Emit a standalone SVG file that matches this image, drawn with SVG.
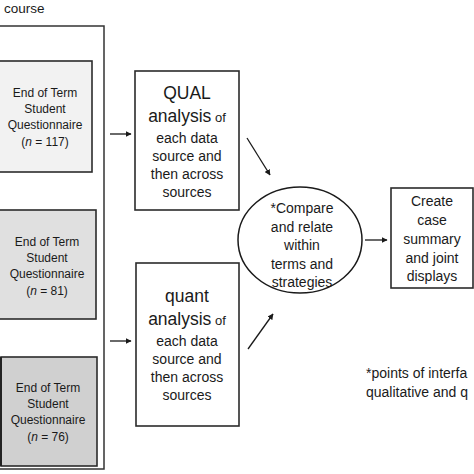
<svg xmlns="http://www.w3.org/2000/svg" width="474" height="474" viewBox="0 0 474 474">
<style>
text{font-family:"Liberation Sans",Arial,sans-serif;fill:#1a1a1a;text-anchor:middle}
.s{font-size:12px}
.m{font-size:14px}
.l{font-size:17.5px}
.sm{font-size:13px}
.box{stroke:#2b2b2b;stroke-width:1.6}
.con{stroke:#1a1a1a;stroke-width:1.3;fill:none}
</style>
<defs>
<marker id="ah" viewBox="0 0 10 10" refX="9" refY="5" markerWidth="6" markerHeight="6" markerUnits="userSpaceOnUse" orient="auto">
<path d="M0,0 L10,5 L0,10 z" fill="#1a1a1a"/>
</marker>
</defs>
<rect width="474" height="474" fill="#fff"/>
<text x="4" y="13" style="font-size:13.5px;text-anchor:start">course</text>
<g id="container">
<rect x="-5" y="26" width="109" height="443" fill="#fff" stroke="#333" stroke-width="1.5"/>
</g>
<g id="q1">
<rect class="box" x="-5" y="61" width="97" height="111" fill="#f2f2f2"/>
<text class="s" x="45" y="97">End of Term</text>
<text class="s" x="45" y="113">Student</text>
<text class="s" x="45" y="129">Questionnaire</text>
<text class="s" x="45" y="146">(<tspan font-style="italic">n</tspan> = 117)</text>
</g>
<g id="q2">
<rect class="box" x="-5" y="210" width="101" height="109" fill="#e0e0e0"/>
<text class="s" x="47" y="246">End of Term</text>
<text class="s" x="47" y="262">Student</text>
<text class="s" x="47" y="278">Questionnaire</text>
<text class="s" x="47" y="295">(<tspan font-style="italic">n</tspan> = 81)</text>
</g>
<g id="q3">
<rect class="box" x="1" y="357" width="96" height="109" fill="#d0d0d0"/>
<rect x="-2" y="357" width="4" height="109" fill="#222"/>
<text class="s" x="48" y="392">End of Term</text>
<text class="s" x="48" y="408">Student</text>
<text class="s" x="48" y="424">Questionnaire</text>
<text class="s" x="48" y="441">(<tspan font-style="italic">n</tspan> = 76)</text>
</g>
<g id="qual">
<rect class="box" x="135" y="71" width="104" height="139" fill="#fff"/>
<text class="l" x="187" y="99">QUAL</text>
<text x="187" y="122"><tspan class="l">analysis</tspan><tspan class="sm"> of</tspan></text>
<text class="m" x="187" y="143">each data</text>
<text class="m" x="187" y="161">source and</text>
<text class="m" x="187" y="179">then across</text>
<text class="m" x="187" y="197">sources</text>
</g>
<g id="quant">
<rect class="box" x="136" y="263" width="103" height="163" fill="#fff"/>
<text class="l" x="187" y="302">quant</text>
<text x="187" y="325"><tspan class="l">analysis</tspan><tspan class="sm"> of</tspan></text>
<text class="m" x="187" y="346">each data</text>
<text class="m" x="187" y="364">source and</text>
<text class="m" x="187" y="382">then across</text>
<text class="m" x="187" y="400">sources</text>
</g>
<g id="compare">
<ellipse cx="300" cy="240" rx="62" ry="53" fill="#fff" stroke="#1a1a1a" stroke-width="1.5"/>
<text class="m" x="302" y="213">*Compare</text>
<text class="m" x="302" y="232">and relate</text>
<text class="m" x="302" y="250">within</text>
<text class="m" x="302" y="269">terms and</text>
<text class="m" x="302" y="287">strategies</text>
</g>
<g id="create">
<rect class="box" x="391" y="188" width="82" height="100" fill="#fff"/>
<text class="m" x="432" y="206">Create</text>
<text class="m" x="432" y="225">case</text>
<text class="m" x="432" y="244">summary</text>
<text class="m" x="432" y="263">and joint</text>
<text class="m" x="432" y="281">displays</text>
</g>
<g id="connectors">
<line class="con" x1="110" y1="134" x2="131" y2="134" marker-end="url(#ah)"/>
<line class="con" x1="110" y1="341" x2="131" y2="341" marker-end="url(#ah)"/>
<line class="con" x1="247" y1="138" x2="270" y2="175" marker-end="url(#ah)"/>
<line class="con" x1="248" y1="349" x2="273" y2="314" marker-end="url(#ah)"/>
<line class="con" x1="365" y1="240" x2="387" y2="240" marker-end="url(#ah)"/>
</g>
<text class="m" x="366" y="378" style="text-anchor:start">*points of interfa</text>
<text class="m" x="366" y="397" style="text-anchor:start">qualitative and q</text>
</svg>
